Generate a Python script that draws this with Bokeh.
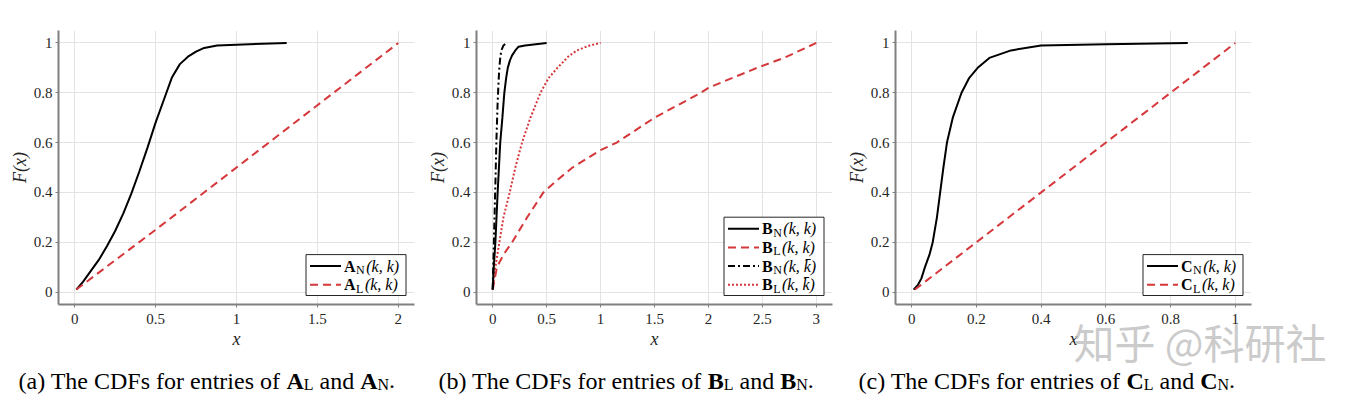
from bokeh.plotting import figure
from bokeh.models import Range1d, FixedTicker, Label
from bokeh.layouts import row, column
from bokeh.core.properties import value
from bokeh.embed import file_html
from bokeh.resources import INLINE

# ---------------- data ----------------
a_n_x = [0.01, 0.05, 0.1, 0.15, 0.2, 0.25, 0.3, 0.35, 0.4, 0.45, 0.5, 0.55, 0.6, 0.65, 0.7, 0.75, 0.8, 0.88, 1.0, 1.31]
a_n_y = [0.01, 0.04, 0.085, 0.13, 0.185, 0.245, 0.315, 0.395, 0.485, 0.58, 0.68, 0.77, 0.86, 0.915, 0.945, 0.965, 0.98, 0.99, 0.993, 1.0]
a_l_x = [0.01, 0.5, 1.0, 1.5, 2.0]
a_l_y = [0.01, 0.25, 0.5, 0.75, 1.0]

b_n_x = [0.0, 0.01, 0.025, 0.046, 0.07, 0.09, 0.108, 0.125, 0.14, 0.16, 0.18, 0.21, 0.24, 0.3, 0.4, 0.5]
b_n_y = [0.01, 0.1, 0.2, 0.4, 0.6, 0.7, 0.8, 0.86, 0.9, 0.93, 0.95, 0.97, 0.985, 0.99, 0.995, 1.0]
b_l_x = [0.0, 0.04, 0.1, 0.18, 0.32, 0.47, 0.6, 0.74, 1.0, 1.15, 1.5, 1.93, 2.0, 2.45, 2.7, 3.0]
b_l_y = [0.01, 0.1, 0.15, 0.2, 0.3, 0.4, 0.45, 0.5, 0.57, 0.6, 0.7, 0.8, 0.82, 0.9, 0.94, 1.0]
b_nb_x = [0.0, 0.008, 0.017, 0.026, 0.034, 0.045, 0.055, 0.062, 0.07, 0.08, 0.1, 0.127]
b_nb_y = [0.01, 0.15, 0.3, 0.45, 0.6, 0.75, 0.85, 0.9, 0.94, 0.97, 0.99, 1.0]
b_lb_x = [0.0, 0.025, 0.062, 0.1, 0.158, 0.21, 0.272, 0.35, 0.443, 0.52, 0.6, 0.7, 0.78, 0.9, 1.0]
b_lb_y = [0.01, 0.1, 0.2, 0.3, 0.4, 0.5, 0.6, 0.7, 0.8, 0.86, 0.9, 0.945, 0.97, 0.99, 1.0]

c_n_x = [0.006, 0.02, 0.03, 0.041, 0.055, 0.065, 0.078, 0.088, 0.098, 0.109, 0.127, 0.154, 0.178, 0.204, 0.24, 0.307, 0.4, 0.6, 0.853]
c_n_y = [0.01, 0.03, 0.055, 0.1, 0.15, 0.2, 0.3, 0.4, 0.5, 0.6, 0.7, 0.8, 0.86, 0.9, 0.94, 0.97, 0.99, 0.995, 1.0]
c_l_x = [0.01, 0.5, 1.0]
c_l_y = [0.01, 0.5, 1.0]

a_xticks = [0, 0.5, 1, 1.5, 2]
a_xlabels = ["0", "0.5", "1", "1.5", "2"]
b_xticks = [0, 0.5, 1, 1.5, 2, 2.5, 3]
b_xlabels = ["0", "0.5", "1", "1.5", "2", "2.5", "3"]
c_xticks = [0, 0.2, 0.4, 0.6, 0.8, 1]
c_xlabels = ["0", "0.2", "0.4", "0.6", "0.8", "1"]
yticks = [0, 0.2, 0.4, 0.6, 0.8, 1]
ylabels = ["0", "0.2", "0.4", "0.6", "0.8", "1"]

watermark = "知乎 @科研社"

# ---------------- styling / layout ----------------
RED = "#d5373a"
BLACK = "#000000"
SERIF = "Liberation Serif"
FW, FH = 356, 274
TOP = 30
BOTTOM = 54
YR = (-0.05, 1.05)
FT = TOP           # page y of frame top
FB = TOP + FH      # page y of frame bottom
PAGE_W = 1341

TIMES = {' ': .25, '(': .333, ')': .333, 'a': .444, 'b': .5, 'c': .444, 'T': .611, 'h': .5,
         'e': .444, 'C': .667, 'D': .722, 'F': .556, 's': .389, 'f': .333, 'o': .5, 'r': .333,
         'n': .5, 't': .278, 'i': .278, 'd': .5, '.': .25}
BOLDW = {'A': .722, 'B': .667, 'C': .722}
SUBW = {'L': .611, 'N': .722}


def twidth(s, size):
    return sum(TIMES.get(ch, .5) for ch in s) * size


class Panel:
    def __init__(self, xr, fig_left, frame_left, right_border, xticks, xlabels):
        lb = frame_left - fig_left
        self.xr = xr
        self.fl = frame_left
        p = figure(x_range=Range1d(*xr), y_range=Range1d(*YR),
                   frame_width=FW, frame_height=FH,
                   width=lb + FW + right_border, height=TOP + FH + BOTTOM,
                   min_border_left=lb, min_border_right=right_border,
                   min_border_top=TOP, min_border_bottom=BOTTOM,
                   output_backend="svg", toolbar_location=None)
        p.outline_line_color = None
        p.background_fill_color = "white"
        p.border_fill_color = "white"
        p.xaxis.ticker = FixedTicker(ticks=xticks)
        p.xaxis.major_label_overrides = {t: l for t, l in zip(xticks, xlabels)}
        p.yaxis.ticker = FixedTicker(ticks=yticks)
        p.yaxis.major_label_overrides = {t: l for t, l in zip(yticks, ylabels)}
        for ax in (p.xaxis, p.yaxis):
            ax.axis_line_color = "#808080"
            ax.axis_line_width = 2
            ax.major_tick_line_color = "#808080"
            ax.major_tick_in = 0
            ax.major_tick_out = 3
            ax.minor_tick_line_color = None
            ax.major_label_text_font = SERIF
            ax.major_label_text_font_size = "15px"
            ax.major_label_text_color = "#262626"
            ax.axis_label_text_font = SERIF
            ax.axis_label_text_font_style = "italic"
            ax.axis_label_text_font_size = "18px"
            ax.axis_label_text_color = "#262626"
        p.xaxis.major_label_standoff = 6
        p.yaxis.major_label_standoff = 3
        p.xaxis.axis_label = "x"
        p.yaxis.axis_label = "F(x)"
        p.xaxis.axis_label_standoff = 2
        p.yaxis.axis_label_standoff = 1
        p.grid.grid_line_color = "#e3e3e3"
        p.grid.grid_line_width = 1
        self.p = p

    def dx(self, px):
        return self.xr[0] + (px - self.fl) / FW * (self.xr[1] - self.xr[0])

    def dy(self, py):
        return YR[1] - (py - FT) / FH * (YR[1] - YR[0])


def add_legend(P, entries, letter):
    p = P.p
    fr = P.fl + FW
    box_r = fr - 8.5
    box_l = box_r - 100
    box_b = FB - 9
    n = len(entries)
    rows = [box_b - 10.7 - 18.7 * (n - 1 - i) for i in range(n)]
    box_t = rows[0] - 11.5
    dx, dy = P.dx, P.dy
    p.quad(left=[dx(box_l)], right=[dx(box_r)], top=[dy(box_t)], bottom=[dy(box_b)],
           fill_color="white", line_color="#262626", line_width=1)
    for (color, dash, sub, arg), ry in zip(entries, rows):
        p.line([dx(box_l + 4), dx(box_l + 35)], [dy(ry), dy(ry)], line_color=color,
               line_width=2, line_dash=dash)
        tx = box_l + 38
        p.add_layout(Label(x=dx(tx), y=dy(ry), text=letter, text_font=SERIF,
                           text_font_style="bold", text_font_size="16px",
                           text_baseline="middle", text_color="black"))
        sx = tx + BOLDW[letter] * 16 + 0.5
        p.add_layout(Label(x=dx(sx), y=dy(ry + 4), text=sub, text_font=SERIF,
                           text_font_size="12px", text_baseline="middle", text_color="black"))
        ax_ = sx + SUBW[sub] * 12 + 1.5
        p.add_layout(Label(x=dx(ax_), y=dy(ry), text=arg, text_font=SERIF,
                           text_font_style="italic", text_font_size="16px",
                           text_baseline="middle", text_color="black"))


# ---------------- panel (a) ----------------
A = Panel((-0.1, 2.1), 0, 58, 4, a_xticks, a_xlabels)
A.p.line(a_n_x, a_n_y, line_color=BLACK, line_width=2)
A.p.line(a_l_x, a_l_y, line_color=RED, line_width=2, line_dash="8 5")
add_legend(A, [(BLACK, "solid", "N", "(k, k)"), (RED, "8 5", "L", "(k, k)")], "A")

# ---------------- panel (b) ----------------
B = Panel((-0.15, 3.15), 418, 476, 5, b_xticks, b_xlabels)
B.p.line(b_lb_x, b_lb_y, line_color=RED, line_width=2, line_dash="2 2")
B.p.line(b_l_x, b_l_y, line_color=RED, line_width=2, line_dash="8 5")
B.p.line(b_n_x, b_n_y, line_color=BLACK, line_width=2)
B.p.line(b_nb_x, b_nb_y, line_color=BLACK, line_width=2, line_dash="7 3 2 3")
add_legend(B, [(BLACK, "solid", "N", "(k, k)"), (RED, "8 5", "L", "(k, k)"),
               (BLACK, "7 3 2 3", "N", "(k, k\u0304)"), (RED, "2 2", "L", "(k, k\u0304)")], "B")

# ---------------- panel (c) ----------------
C = Panel((-0.05, 1.05), 837, 895, 90, c_xticks, c_xlabels)
C.p.line(c_n_x, c_n_y, line_color=BLACK, line_width=2)
C.p.line(c_l_x, c_l_y, line_color=RED, line_width=2, line_dash="8 5")
add_legend(C, [(BLACK, "solid", "N", "(k, k)"), (RED, "8 5", "L", "(k, k)")], "C")

# ---------------- captions + watermark strip (transparent, overlapping upward) ----------------
PANEL_BOTTOM = TOP + FH + BOTTOM   # 358
CAP_TOP = 312
CAP_H = 395 - CAP_TOP
cap = figure(x_range=Range1d(0, PAGE_W), y_range=Range1d(395, CAP_TOP),
             width=PAGE_W, height=CAP_H, min_border=0, x_axis_type=None, y_axis_type=None,
             output_backend="svg", toolbar_location=None,
             margin=(CAP_TOP - PANEL_BOTTOM, 0, 0, 0))
cap.outline_line_color = None
cap.background_fill_color = None
cap.border_fill_color = None
cap.grid.visible = False

cap.text(x=[1073], y=[340], text=[watermark], text_font=value("Noto Sans CJK SC"),
         text_font_size=value("41px"), text_baseline=value("middle"), text_align=value("left"),
         text_color="#bdbdbd", text_alpha=0.8)

for start, tag, letter in [(18, "a", "A"), (438, "b", "B"), (858, "c", "C")]:
    pre = "(" + tag + ") The CDFs for entries of"
    sp = TIMES[' '] * 24
    pieces = [(pre, "normal", 24, 380, twidth(pre, 24) + sp),
              (letter, "bold", 24, 380, BOLDW[letter] * 24),
              ("L", "normal", 16, 384, SUBW['L'] * 16 + sp),
              ("and", "normal", 24, 380, twidth("and", 24) + sp),
              (letter, "bold", 24, 380, BOLDW[letter] * 24),
              ("N", "normal", 16, 384, SUBW['N'] * 16),
              (".", "normal", 24, 380, twidth(".", 24))]
    x = start
    for txt, style, size, base, w in pieces:
        cap.text(x=[x], y=[base], text=[txt], text_font=value(SERIF),
                 text_font_style=value(style), text_font_size=value(f"{size}px"),
                 text_baseline=value("alphabetic"), text_align=value("left"),
                 text_color="black")
        x += w

layout = column(row(A.p, B.p, C.p), cap)
open("out.html", "w").write(file_html(layout, INLINE))
